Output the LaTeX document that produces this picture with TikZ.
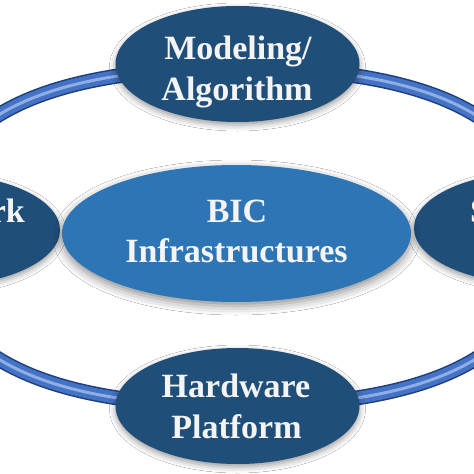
\documentclass[tikz,border=0pt]{standalone}
\usepackage{fontspec}
\setmainfont{Liberation Serif}
\usetikzlibrary{shapes.geometric,shadows.blur}
\definecolor{nodeblue}{HTML}{1F4E79}
\definecolor{coreblue}{HTML}{2E75B6}
\definecolor{tubedark}{HTML}{1E3F7E}
\definecolor{tubemid}{HTML}{4472C4}
\definecolor{tubelight}{HTML}{8FAEE6}
\definecolor{textwhite}{HTML}{F4F4F4}
\begin{document}
\begin{tikzpicture}[x=1pt,y=-1pt,
  outer/.style={ellipse, fill=nodeblue, minimum width=244pt, minimum height=116pt, inner sep=0pt,
    blur shadow={shadow xshift=0pt, shadow yshift=-3pt, shadow blur radius=6pt, shadow opacity=40}},
  core/.style={ellipse, fill=coreblue, minimum width=349pt, minimum height=137pt, inner sep=0pt,
    blur shadow={shadow xshift=0pt, shadow yshift=-4pt, shadow blur radius=9pt, shadow opacity=45}},
  lbl/.style={text=textwhite, font=\bfseries\fontsize{34}{40}\selectfont, inner sep=0pt, anchor=base}
]
\useasboundingbox (0,0) rectangle (474,474);
\clip (0,0) rectangle (474,474);
\fill[white] (0,0) rectangle (474,474);
% ring tube
\foreach \w/\c in {15/tubedark,12/tubemid,3/tubelight}{
  \draw[line width=\w pt, color=\c]
    (-70,237) .. controls (-70,120) and (40,68) .. (237,68)
    .. controls (434,68) and (544,120) .. (544,237)
    .. controls (544,354) and (434,406) .. (237,406)
    .. controls (40,406) and (-70,354) .. (-70,237) -- cycle;
}
% outer ellipses
\node[outer] (model) at (237.5,64) {};
\node[outer] (hw) at (237.5,406) {};
\node[outer, minimum height=112pt] (net) at (-62,230) {};
\node[outer, minimum height=112pt] (sw) at (536,228) {};
% core
\node[core] (bic) at (236.5,233.5) {};
% labels
\node[lbl] (modelA) at (238,59) {Modeling/};
\node[lbl] (modelB) at (237,100) {Algorithm};
\node[lbl] (bicA) at (237,222) {BIC};
\node[lbl] (bicB) at (236.5,262) {Infrastructures};
\node[lbl] (hwA) at (236,397) {Hardware};
\node[lbl] (hwB) at (236.5,438) {Platform};
\node[lbl, anchor=base east] (netA) at (25,222) {rk};
\node[lbl, anchor=base west] (swA) at (470,222) {S};
\end{tikzpicture}
\end{document}
